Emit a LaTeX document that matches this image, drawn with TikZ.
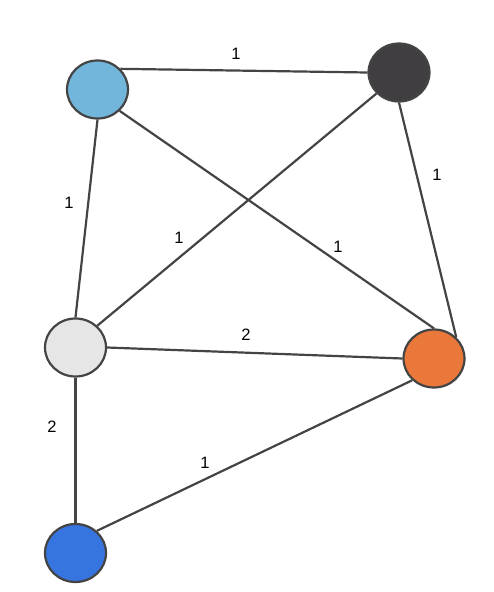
\documentclass[tikz,border=0pt]{standalone}
\usepackage{fontspec}
\setmainfont{Liberation Sans}
\usetikzlibrary{shapes.geometric}
\definecolor{edgec}{HTML}{444444}
\definecolor{cLightBlue}{HTML}{72B6DC}
\definecolor{cDark}{HTML}{403E41}
\definecolor{cGray}{HTML}{E6E6E6}
\definecolor{cOrange}{HTML}{EA783A}
\definecolor{cBlue}{HTML}{3674E0}
\tikzset{
  vert/.style={ellipse, draw=edgec, line width=2.2pt, minimum width=61pt, minimum height=58pt, inner sep=0pt},
  edge/.style={draw=edgec, line width=2.2pt},
  wlabel/.style={font=\fontsize{16.5}{18}\selectfont, inner sep=0pt, text=black}
}
\begin{document}
\begin{tikzpicture}[x=1pt,y=-1pt]
\useasboundingbox (0,0) rectangle (494,592);
\node[vert, fill=cLightBlue] (lb) at (97.5,89.5) {};
\node[vert, fill=cDark] (dk) at (399,72.5) {};
\node[vert, fill=cGray] (gr) at (75.5,347.5) {};
\node[vert, fill=cOrange] (or) at (434,358.5) {};
\node[vert, fill=cBlue] (bl) at (75.5,553) {};
\draw[edge] (lb.42) -- (dk.west);
\draw[edge] (lb.south) -- (gr.north);
\draw[edge] (lb.-44) -- (or.north);
\draw[edge] (dk.223) -- (gr.45);
\draw[edge] (dk.south) -- (or.44);
\draw[edge] (gr.east) -- (or.west);
\draw[edge] (gr.south) -- (bl.north);
\draw[edge] (bl.46) -- (or.225);
\node[wlabel] (l1) at (236,54) {1};
\node[wlabel] (l2) at (437,175) {1};
\node[wlabel] (l3) at (69,203) {1};
\node[wlabel] (l4) at (179,238) {1};
\node[wlabel] (l5) at (338,247) {1};
\node[wlabel] (l6) at (246,335) {2};
\node[wlabel] (l7) at (52,427) {2};
\node[wlabel] (l8) at (205,463) {1};
\end{tikzpicture}
\end{document}
